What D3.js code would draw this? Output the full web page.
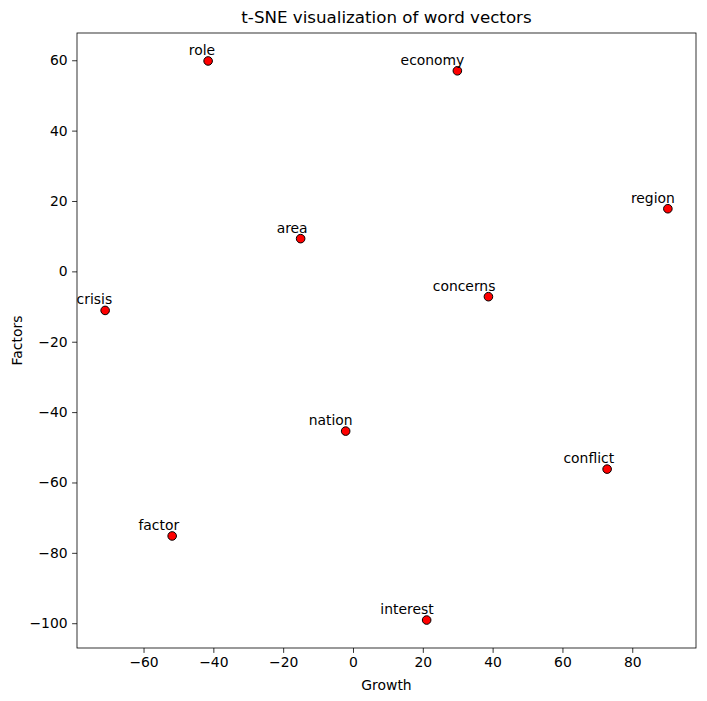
<!DOCTYPE html>
<html>
<head>
<meta charset="utf-8">
<script src="https://cdn.jsdelivr.net/npm/d3@7"></script>
<style>
  body { margin: 0; background: #fff; }
  svg text { font-family: "DejaVu Sans", sans-serif; fill: #000; }
  .axis path, .axis line { stroke: #000; stroke-width: 0.8; }
  .axis text { font-size: 13.9px; }
</style>
</head>
<body>
<div id="chart"></div>
<script>
  // word labels and their 2-D t-SNE coordinates
  var words = ["role", "economy", "region", "area", "concerns", "crisis", "nation", "conflict", "factor", "interest"];
  var growth = [-41.5, 29.9, 90.2, -15.0, 38.8, -71.0, -2.1, 72.8, -51.8, 21.1];
  var factors = [59.8, 57.0, 17.8, 9.3, -7.2, -11.1, -45.4, -56.2, -75.2, -99.1];
  var xTicks = [-60, -40, -20, 0, 20, 40, 60, 80];
  var yTicks = [-100, -80, -60, -40, -20, 0, 20, 40, 60];

  var W = 707, H = 701;
  var margin = { top: 33, right: 11, bottom: 53, left: 77 };
  var width = W - margin.left - margin.right;
  var height = H - margin.top - margin.bottom;

  // matplotlib style 5% padding around the data
  function padded(vals) {
    var ext = d3.extent(vals), pad = (ext[1] - ext[0]) * 0.05;
    return [ext[0] - pad, ext[1] + pad];
  }

  var x = d3.scaleLinear().domain(padded(growth)).range([0, width]);
  var y = d3.scaleLinear().domain(padded(factors)).range([height, 0]);

  var svg = d3.select("#chart").append("svg")
    .attr("width", W).attr("height", H)
    .append("g")
    .attr("transform", "translate(" + margin.left + "," + margin.top + ")");

  svg.append("g").attr("class", "x axis")
    .attr("transform", "translate(0," + height + ")")
    .call(d3.axisBottom(x).tickValues(xTicks).tickSize(4.9).tickSizeOuter(0).tickPadding(4.5));

  svg.append("g").attr("class", "y axis")
    .call(d3.axisLeft(y).tickValues(yTicks).tickSize(4.9).tickSizeOuter(0).tickPadding(4.5));

  svg.selectAll(".axis .domain").remove();

  // frame
  svg.append("rect")
    .attr("x", 0).attr("y", 0).attr("width", width).attr("height", height)
    .attr("fill", "none").attr("stroke", "#000").attr("stroke-width", 0.8);

  var pts = words.map(function(w, i) {
    return { word: w, gx: growth[i], fy: factors[i] };
  });

  svg.selectAll("circle.pt").data(pts).enter().append("circle")
    .attr("class", "pt")
    .attr("cx", function(d) { return x(d.gx); })
    .attr("cy", function(d) { return y(d.fy); })
    .attr("r", 4.3)
    .attr("fill", "#ff0000")
    .attr("stroke", "#000")
    .attr("stroke-width", 1);

  svg.selectAll("text.lbl").data(pts).enter().append("text")
    .attr("class", "lbl")
    .attr("x", function(d) { return x(d.gx) + 7; })
    .attr("y", function(d) { return y(d.fy) - 6; })
    .attr("text-anchor", "end")
    .style("font-size", "13.9px")
    .text(function(d) { return d.word; });

  svg.append("text")
    .attr("x", width / 2).attr("y", -10)
    .attr("text-anchor", "middle")
    .style("font-size", "16.7px")
    .text("t-SNE visualization of word vectors");

  svg.append("text")
    .attr("x", width / 2).attr("y", height + 42)
    .attr("text-anchor", "middle")
    .style("font-size", "13.9px")
    .text("Growth");

  svg.append("text")
    .attr("transform", "translate(" + (-55) + "," + (height / 2) + ") rotate(-90)")
    .attr("text-anchor", "middle")
    .style("font-size", "13.9px")
    .text("Factors");
</script>
</body>
</html>
